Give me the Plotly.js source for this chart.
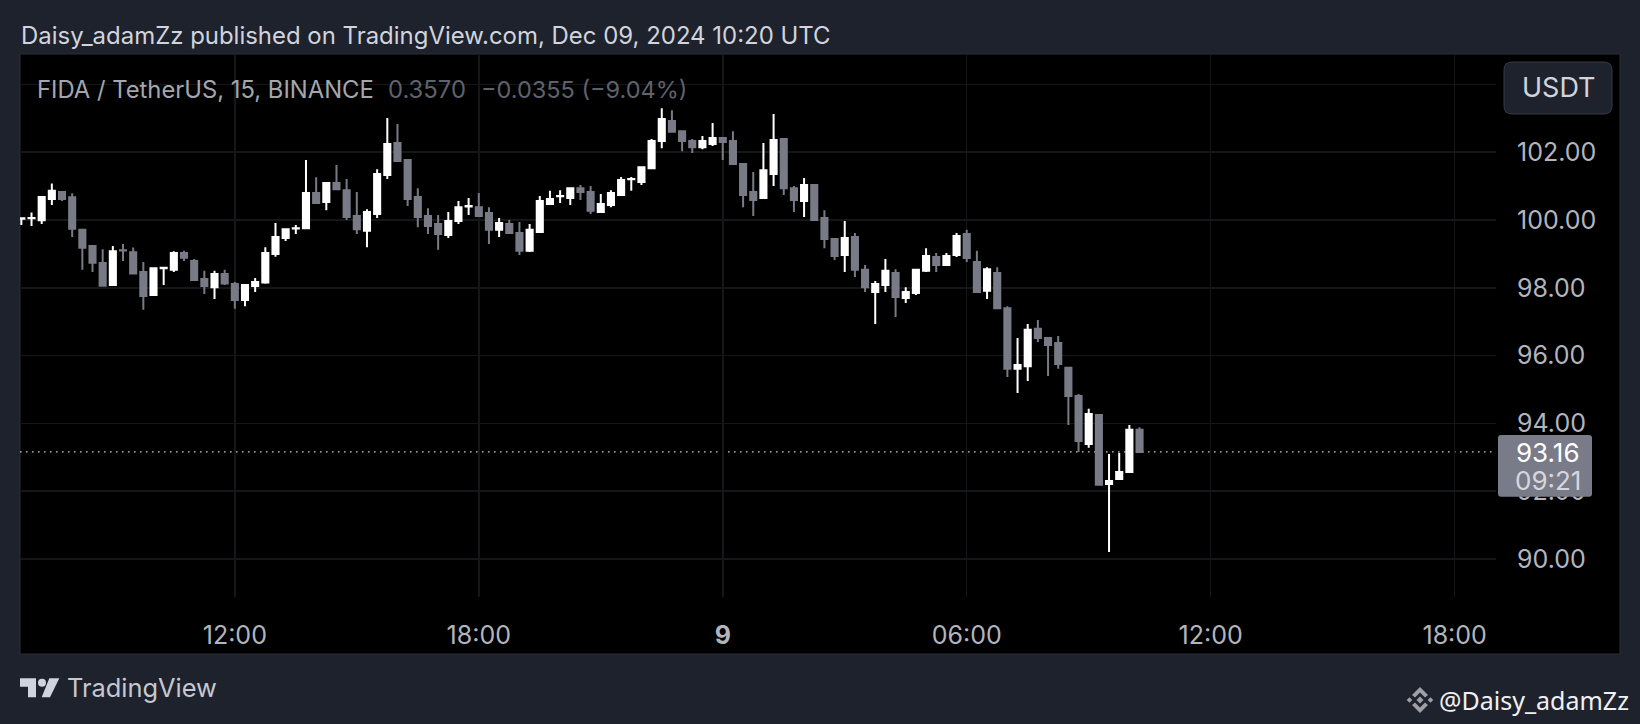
<!DOCTYPE html>
<html>
<head>
<meta charset="utf-8">
<script src="https://cdn.plot.ly/plotly-3.0.1.min.js"></script>
<style>
  html, body { margin: 0; padding: 0; background: #1e222d; overflow: hidden; }
</style>
</head>
<body>
<div id="chart"></div>
<script>
// FIDA / USDT velas de 15 minutos
const times = [
  '2024-12-08 06:45','2024-12-08 07:00','2024-12-08 07:15','2024-12-08 07:30','2024-12-08 07:45',
  '2024-12-08 08:00','2024-12-08 08:15','2024-12-08 08:30','2024-12-08 08:45',
  '2024-12-08 09:00','2024-12-08 09:15','2024-12-08 09:30','2024-12-08 09:45',
  '2024-12-08 10:00','2024-12-08 10:15','2024-12-08 10:30','2024-12-08 10:45',
  '2024-12-08 11:00','2024-12-08 11:15','2024-12-08 11:30','2024-12-08 11:45',
  '2024-12-08 12:00','2024-12-08 12:15','2024-12-08 12:30','2024-12-08 12:45',
  '2024-12-08 13:00','2024-12-08 13:15','2024-12-08 13:30','2024-12-08 13:45',
  '2024-12-08 14:00','2024-12-08 14:15','2024-12-08 14:30','2024-12-08 14:45',
  '2024-12-08 15:00','2024-12-08 15:15','2024-12-08 15:30','2024-12-08 15:45',
  '2024-12-08 16:00','2024-12-08 16:15','2024-12-08 16:30','2024-12-08 16:45',
  '2024-12-08 17:00','2024-12-08 17:15','2024-12-08 17:30','2024-12-08 17:45',
  '2024-12-08 18:00','2024-12-08 18:15','2024-12-08 18:30','2024-12-08 18:45',
  '2024-12-08 19:00','2024-12-08 19:15','2024-12-08 19:30','2024-12-08 19:45',
  '2024-12-08 20:00','2024-12-08 20:15','2024-12-08 20:30','2024-12-08 20:45',
  '2024-12-08 21:00','2024-12-08 21:15','2024-12-08 21:30','2024-12-08 21:45',
  '2024-12-08 22:00','2024-12-08 22:15','2024-12-08 22:30','2024-12-08 22:45',
  '2024-12-08 23:00','2024-12-08 23:15','2024-12-08 23:30','2024-12-08 23:45',
  '2024-12-09 00:00','2024-12-09 00:15','2024-12-09 00:30','2024-12-09 00:45',
  '2024-12-09 01:00','2024-12-09 01:15','2024-12-09 01:30','2024-12-09 01:45',
  '2024-12-09 02:00','2024-12-09 02:15','2024-12-09 02:30','2024-12-09 02:45',
  '2024-12-09 03:00','2024-12-09 03:15','2024-12-09 03:30','2024-12-09 03:45',
  '2024-12-09 04:00','2024-12-09 04:15','2024-12-09 04:30','2024-12-09 04:45',
  '2024-12-09 05:00','2024-12-09 05:15','2024-12-09 05:30','2024-12-09 05:45',
  '2024-12-09 06:00','2024-12-09 06:15','2024-12-09 06:30','2024-12-09 06:45',
  '2024-12-09 07:00','2024-12-09 07:15','2024-12-09 07:30','2024-12-09 07:45',
  '2024-12-09 08:00','2024-12-09 08:15','2024-12-09 08:30','2024-12-09 08:45',
  '2024-12-09 09:00','2024-12-09 09:15','2024-12-09 09:30','2024-12-09 09:45',
  '2024-12-09 10:00','2024-12-09 10:15'
];

const opens = [
  100.04,100.05,99.99,100.62,100.83,100.67,99.71,99.23,98.73,98.08,99.11,99.05,98.47,97.79,98.58,98.53,
  99.03,98.79,98.26,98.02,98.41,98.11,97.64,98.05,98.16,99.00,99.47,99.75,99.76,100.80,100.53,101.09,
  100.88,100.12,99.68,100.18,101.33,102.27,101.77,100.68,100.12,99.88,99.56,99.97,100.40,100.38,100.21,99.71,
  99.88,99.62,99.09,99.65,100.47,100.70,100.65,100.94,100.83,100.24,100.44,100.74,101.20,101.12,101.53,102.33,
  102.92,102.62,102.33,102.15,102.24,102.42,102.33,101.65,100.83,100.65,101.36,102.39,100.94,100.56,101.03,100.06,
  99.44,98.97,99.50,98.53,97.88,98.08,98.44,97.70,97.85,98.50,98.91,98.67,98.97,99.59,98.76,97.91,
  98.44,97.40,95.61,95.69,96.79,96.52,96.37,95.64,94.81,93.39,94.25,92.21,92.36,92.57,93.81
];
const highs = [
  100.08,100.22,100.68,101.08,100.84,100.79,99.71,99.23,99.14,99.23,99.29,99.19,98.76,98.58,98.61,99.08,
  99.09,98.85,98.50,98.50,98.53,98.17,98.10,98.29,99.20,99.91,99.73,99.85,101.77,101.26,101.11,101.62,
  101.21,100.83,100.32,101.50,103.01,102.83,101.80,100.94,100.35,100.15,100.24,100.56,100.65,100.80,100.38,100.06,
  100.00,99.94,99.88,100.71,100.86,100.88,100.97,101.03,101.00,100.77,100.88,101.27,101.27,101.56,102.39,103.30,
  103.24,102.65,102.39,102.48,102.86,102.45,102.62,101.67,101.42,102.27,103.13,102.39,101.00,101.24,101.06,100.29,
  99.47,99.97,99.62,98.67,98.20,98.85,98.55,98.02,98.53,99.17,99.03,99.03,99.62,99.71,99.09,98.61,
  98.61,97.46,96.52,96.93,97.05,96.55,96.58,95.66,94.87,94.43,94.25,93.10,93.13,93.95,93.89
];
const lows = [
  99.85,99.82,99.88,100.44,100.56,99.50,98.53,98.47,98.03,98.08,98.79,98.42,97.35,97.77,98.08,98.47,
  98.79,98.23,97.82,97.67,98.08,97.38,97.46,97.88,98.12,98.92,99.38,99.59,99.76,100.50,100.29,100.88,
  100.00,99.59,99.20,100.06,101.21,101.74,100.41,99.79,99.59,99.12,99.47,99.88,100.15,100.12,99.29,99.50,
  99.62,98.97,99.06,99.65,100.47,100.50,100.44,100.59,100.18,100.24,100.38,100.74,100.86,101.03,101.53,102.12,
  102.60,102.03,101.98,102.09,102.18,101.77,101.65,100.38,100.12,100.62,101.00,100.74,100.24,100.09,100.00,99.17,
  98.82,98.47,98.32,97.88,96.93,97.88,97.14,97.55,97.79,98.47,98.47,98.64,98.91,98.76,97.88,97.67,
  97.40,95.37,94.90,95.25,96.40,95.40,95.61,93.95,93.16,93.28,92.19,90.21,92.36,92.57,93.14
];
const closes = [
  100.05,100.06,100.68,100.86,100.62,99.74,99.18,98.74,98.06,99.08,99.10,98.42,97.76,98.58,98.59,99.03,
  98.89,98.23,98.05,98.41,98.13,97.64,98.08,98.17,99.03,99.50,99.73,99.76,100.80,100.50,101.09,100.91,
  100.09,99.73,100.24,101.36,102.24,101.74,100.62,100.09,99.82,99.59,99.97,100.38,100.41,100.12,99.71,99.91,
  99.62,99.09,99.71,100.56,100.62,100.71,100.94,100.83,100.27,100.47,100.80,101.18,101.21,101.56,102.33,102.98,
  102.60,102.33,102.15,102.33,102.42,102.30,101.65,100.74,100.59,101.47,102.36,100.94,100.59,101.03,100.00,99.44,
  98.94,99.47,98.53,98.02,98.11,98.50,97.73,97.88,98.53,98.94,98.67,98.94,99.53,98.88,97.88,98.55,
  97.40,95.61,95.72,96.76,96.52,96.31,95.75,94.81,93.48,94.28,92.19,92.30,92.57,93.81,93.16
];

const refLevel = 100;
const lastPrice = 93.16;
const priceTicks = [90, 92, 94, 96, 98, 100, 102, 104];
const priceLabels = ['90.00', '92.00', '94.00', '96.00', '98.00', '100.00', '102.00', ''];
const timeTicks = ['2024-12-08 12:00', '2024-12-08 18:00', '2024-12-09 00:00', '2024-12-09 06:00', '2024-12-09 12:00', '2024-12-09 18:00'];
const timeLabels = ['12:00', '18:00', '<b>9</b>', '06:00', '12:00', '18:00'];

// area del grafico en pixeles
const L = 20, R = 1496, T = 54, B = 597;
const X = px => (px - L) / (R - L);
const Y = py => (B - py) / (B - T);

function poly(pts) {
    return 'M' + pts.map(p => X(p[0]) + ',' + Y(p[1])).join('L') + 'Z';
}

function roundRect(x0, y0, x1, y1, r) {
    const c = (x, y) => X(x) + ',' + Y(y);
    return 'M' + c(x0 + r, y0) + 'L' + c(x1 - r, y0) + 'Q' + c(x1, y0) + ' ' + c(x1, y0 + r) +
        'L' + c(x1, y1 - r) + 'Q' + c(x1, y1) + ' ' + c(x1 - r, y1) +
        'L' + c(x0 + r, y1) + 'Q' + c(x0, y1) + ' ' + c(x0, y1 - r) +
        'L' + c(x0, y0 + r) + 'Q' + c(x0, y0) + ' ' + c(x0 + r, y0) + 'Z';
}

function pathShape(path, fill, lineColor, layer) {
    return {
        type: 'path', xref: 'paper', yref: 'paper', path: path, fillcolor: fill, layer: layer || 'above',
        line: lineColor ? { color: lineColor, width: 1 } : { width: 0 }
    };
}

function label(text, x, y, size, color, anchor, family) {
    return {
        text: text, xref: 'paper', yref: 'paper', x: X(x), y: Y(y), showarrow: false,
        xanchor: anchor || 'left', yanchor: 'middle', borderpad: 0,
        font: { family: family || 'Inter', size: size, color: color }
    };
}

// icono de binance
const bx = 1420, by = 700;
const diamond = (cx, cy, r) => poly([[cx, cy - r], [cx + r, cy], [cx, cy + r], [cx - r, cy]]);
const chevron = s => poly([[bx, by + s * 13], [bx + 8, by + s * 5], [bx + 5, by + s * 2.5], [bx, by + s * 7.5], [bx - 5, by + s * 2.5], [bx - 8, by + s * 5]]);

const shapes = [
    // marco negro
    { type: 'rect', xref: 'paper', yref: 'paper', x0: X(20), x1: X(1620), y0: Y(654), y1: Y(54), layer: 'below',
      fillcolor: '#000000', line: { color: '#2a2e39', width: 1 } },
    { type: 'line', xref: 'paper', yref: 'y', x0: 0, x1: 1, y0: refLevel, y1: refLevel, layer: 'below',
      line: { color: '#787b86', width: 1.6 } },
    { type: 'line', xref: 'paper', yref: 'y', x0: 0, x1: X(1492), y0: lastPrice, y1: lastPrice, layer: 'below',
      line: { color: '#c8c9ce', width: 1.4, dash: '1.6px,4.4px' } },
    pathShape(roundRect(1498, 435, 1592, 496.7, 3), '#797b88'),
    pathShape(roundRect(1504, 62, 1612, 114, 8), '#1e222d', '#363a45'),
    // logo tradingview
    pathShape(poly([[20, 678.3], [36, 678.3], [36, 697.3], [28, 697.3], [28, 686.7], [20, 686.7]]), '#d1d4dc'),
    { type: 'circle', xref: 'paper', yref: 'paper', x0: X(38), x1: X(46), y0: Y(686.7), y1: Y(678.7), fillcolor: '#d1d4dc', line: { width: 0 } },
    pathShape(poly([[49.3, 678.3], [59.3, 678.3], [50, 697.3], [41.7, 697.3]]), '#d1d4dc'),
    pathShape(diamond(bx, by, 3.5), '#a0a0a4'),
    pathShape(diamond(bx - 10.5, by, 2.8), '#a0a0a4'),
    pathShape(diamond(bx + 10.5, by, 2.8), '#a0a0a4'),
    pathShape(chevron(-1), '#a0a0a4'),
    pathShape(chevron(1), '#a0a0a4')
];

const annotations = [
    label('Daisy_adamZz published on TradingView.com, Dec 09, 2024 10:20 UTC', 19.5, 35.5, 23.95, '#d1d4dc'),
    label('FIDA / TetherUS, 15, BINANCE', 35.5, 89.5, 23.8, '#a3a6af'),
    label('0.3570', 387, 89.5, 23.8, '#5f626c'),
    label('−0.0355 (−9.04%)', 480, 89.5, 23.5, '#5f626c'),
    label('USDT', 1558.5, 88, 27, '#d1d4dc', 'center'),
    label('93.16', 1548, 452, 26, '#ffffff', 'center'),
    label('09:21', 1548, 480, 26, '#d6d7dc', 'center'),
    label('TradingView', 65.5, 687, 25.4, '#c5c8d0'),
    label('@Daisy_adamZz', 1438, 699.5, 25, '#f0f0f0', 'left', 'Noto Sans')
];

const trace = {
    type: 'candlestick',
    x: times, open: opens, high: highs, low: lows, close: closes,
    whiskerwidth: 0,
    increasing: { line: { color: '#ffffff', width: 2 }, fillcolor: '#ffffff' },
    decreasing: { line: { color: '#787b86', width: 2 }, fillcolor: '#787b86' },
    hoverinfo: 'skip',
    showlegend: false
};

const layout = {
    width: 1640,
    height: 724,
    margin: { l: L, r: 1640 - R, t: T, b: 724 - B, pad: 0, autoexpand: false },
    paper_bgcolor: '#1e222d',
    plot_bgcolor: 'rgba(0,0,0,0)',
    font: { family: 'Inter', color: '#b2b5be' },
    showlegend: false,
    boxgap: 0.4,
    boxgroupgap: 0,
    xaxis: {
        type: 'date',
        range: ['2024-12-08 06:43', '2024-12-09 19:01'],
        rangeslider: { visible: false },
        tickmode: 'array', tickvals: timeTicks, ticktext: timeLabels,
        showgrid: true, gridcolor: '#151618', gridwidth: 1.5,
        showline: false, zeroline: false,
        ticks: 'outside', ticklen: 16, tickcolor: 'rgba(0,0,0,0)',
        tickfont: { family: 'Inter', size: 25, color: '#b2b5be' }
    },
    yaxis: {
        side: 'right',
        range: [88.88, 104.897],
        tickmode: 'array', tickvals: priceTicks, ticktext: priceLabels,
        showgrid: true, gridcolor: '#151618', gridwidth: 1.5,
        showline: false, zeroline: false,
        ticks: 'outside', ticklen: 15, tickcolor: 'rgba(0,0,0,0)',
        tickfont: { family: 'Inter', size: 25, color: '#b2b5be' }
    },
    shapes: shapes,
    annotations: annotations
};

Plotly.newPlot('chart', [trace], layout, { displayModeBar: false, staticPlot: true });
</script>
</body>
</html>
